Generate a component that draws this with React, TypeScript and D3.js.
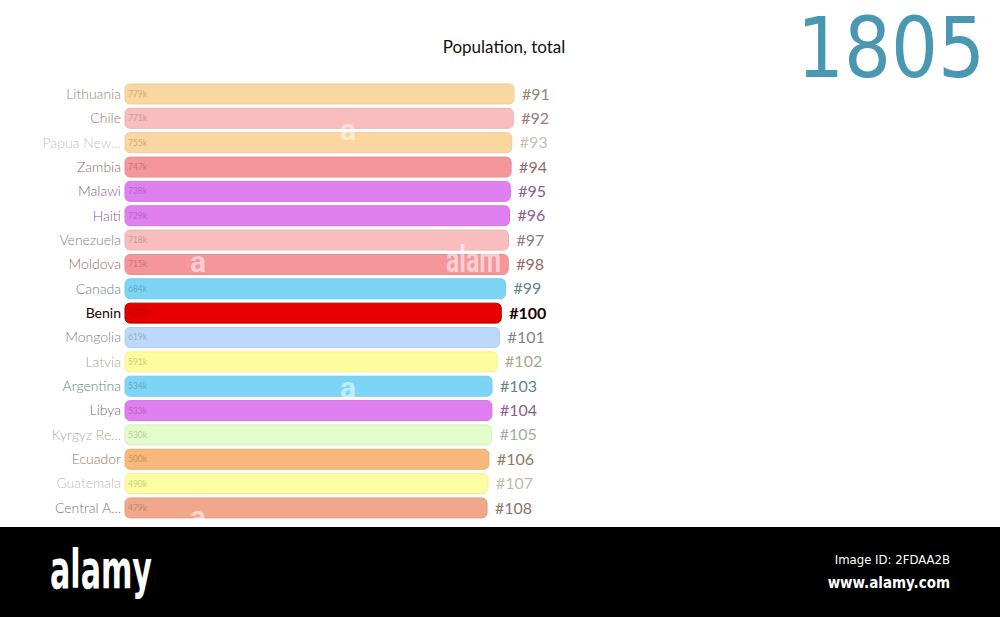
import React, { useEffect, useRef } from 'react';
import * as d3 from 'd3';

// current frame of the race
const year = '1805';
const title = 'Population, total';

const countries = [
  'Lithuania', 'Chile', 'Papua New...', 'Zambia', 'Malawi', 'Haiti',
  'Venezuela', 'Moldova', 'Canada', 'Benin', 'Mongolia', 'Latvia',
  'Argentina', 'Libya', 'Kyrgyz Re...', 'Ecuador', 'Guatemala', 'Central A...',
];
// population in thousands
const values = [779, 771, 755, 747, 738, 729, 718, 715, 684, 637, 619, 591, 534, 533, 530, 500, 490, 479];
const ranks = [91, 92, 93, 94, 95, 96, 97, 98, 99, 100, 101, 102, 103, 104, 105, 106, 107, 108];
const barColors = [
  '#fbd7a0', '#f9bdbd', '#fbd7a0', '#f5959c', '#e07ff0', '#e07ff0',
  '#f9bdbd', '#f5959c', '#7dd5f5', '#e60000', '#bcd9f9', '#fdfd9f',
  '#7dd5f5', '#e07ff0', '#e2fdc9', '#f8b77b', '#fdfda1', '#f1a78a',
];
// label opacity (rows entering / leaving fade out)
const fades = [1, 1, 0.55, 1, 1, 1, 1, 1, 1, 1, 1, 0.85, 1, 1, 0.8, 1, 0.65, 1];
const highlight = 'Benin';

const W = 1000;
const H = 617;

const App = () => {
  const svgRef = useRef<SVGSVGElement>(null);

  useEffect(() => {
    const svg = d3.select(svgRef.current);
    svg.selectAll('*').remove();

    const font = 'Lato, "Open Sans", sans-serif';
    const left = 125;
    const step = 24.35;
    const pad = 0.18;

    // the race keeps a floating baseline, so the scale does not start at 0
    const x = d3.scaleLinear().domain([-3550, 779]).range([left, 514]);
    const y = d3.scaleBand<number>()
      .domain(d3.range(countries.length))
      .range([84, 84 + step * (countries.length - pad)])
      .paddingInner(pad)
      .paddingOuter(0);

    svg.append('rect').attr('width', W).attr('height', H).attr('fill', '#fff');

    svg.append('text')
      .attr('x', 504).attr('y', 53)
      .attr('text-anchor', 'middle')
      .style('font-family', font)
      .style('font-size', '17px')
      .attr('fill', '#111')
      .text(title);

    svg.append('text')
      .attr('x', 797).attr('y', 77)
      .attr('textLength', 188)
      .attr('lengthAdjust', 'spacingAndGlyphs')
      .style('font-family', '"DejaVu Sans Condensed", "DejaVu Sans", sans-serif')
      .style('font-size', '84px')
      .attr('fill', '#4a97b1')
      .text(year);

    const rows = svg.append('g')
      .selectAll('g')
      .data(countries.map((c, i) => ({ c, i })))
      .enter()
      .append('g');

    const labelColor = (i: number) =>
      countries[i] === highlight ? '#1a0000' : d3.interpolateRgb(barColors[i], '#4a4a4a')(0.58);

    rows.append('rect')
      .attr('x', left)
      .attr('y', d => y(d.i)!)
      .attr('width', d => x(values[d.i]) - left)
      .attr('height', y.bandwidth())
      .attr('rx', 5)
      .attr('fill', d => barColors[d.i])
      .attr('stroke', d => d3.color(barColors[d.i])!.darker(countries[d.i] === highlight ? 1 : 0.15).formatHex())
      .attr('stroke-width', 1);

    rows.append('text')
      .attr('x', left + 3)
      .attr('y', d => y(d.i)! + y.bandwidth() / 2)
      .attr('dy', '0.35em')
      .style('font-family', font)
      .style('font-size', '8.5px')
      .attr('fill', d => d3.color(barColors[d.i])!.darker(0.6).formatHex())
      .text(d => `${values[d.i]}k`);

    rows.append('text')
      .attr('x', 121)
      .attr('y', d => y(d.i)! + y.bandwidth() / 2)
      .attr('dy', '0.35em')
      .attr('text-anchor', 'end')
      .style('font-family', font)
      .style('font-size', '14px')
      .style('font-weight', d => (countries[d.i] === highlight ? 400 : 300))
      .attr('fill', d => labelColor(d.i))
      .attr('fill-opacity', d => fades[d.i])
      .text(d => d.c);

    rows.append('text')
      .attr('x', d => x(values[d.i]) + 8)
      .attr('y', d => y(d.i)! + y.bandwidth() / 2)
      .attr('dy', '0.35em')
      .style('font-family', font)
      .style('font-size', '16px')
      .style('font-weight', d => (countries[d.i] === highlight ? 700 : 400))
      .attr('fill', d => labelColor(d.i))
      .attr('fill-opacity', d => fades[d.i])
      .text(d => `#${ranks[d.i]}`);

    // stock photo watermark
    const wm = svg.append('g')
      .attr('fill', '#fff')
      .attr('fill-opacity', 0.55)
      .style('font-family', 'Roboto, sans-serif')
      .style('font-weight', 700);
    [[348, 140], [198, 272], [348, 398], [198, 527]].forEach(([px, py]) => {
      wm.append('text').attr('x', px).attr('y', py).attr('text-anchor', 'middle')
        .style('font-size', '30px').text('a');
    });
    wm.append('text')
      .attr('transform', 'translate(446,272) scale(1,1.45)')
      .style('font-size', '25px').text('alam');

    // bottom banner
    svg.append('rect').attr('x', 0).attr('y', 527).attr('width', W).attr('height', H - 527).attr('fill', '#000');
    svg.append('text')
      .attr('x', 50).attr('y', 588)
      .attr('textLength', 102)
      .attr('lengthAdjust', 'spacingAndGlyphs')
      .style('font-family', '"Liberation Sans Narrow", "DejaVu Sans Condensed", sans-serif')
      .style('font-size', '54px')
      .style('font-weight', 700)
      .attr('fill', '#fff')
      .text('alamy');
    svg.append('text')
      .attr('x', 950).attr('y', 564)
      .attr('text-anchor', 'end')
      .style('font-family', '"DejaVu Sans Condensed", sans-serif')
      .style('font-size', '13px')
      .attr('fill', '#fff')
      .text('Image ID: 2FDAA2B');
    svg.append('text')
      .attr('x', 950).attr('y', 588)
      .attr('text-anchor', 'end')
      .style('font-family', '"DejaVu Sans Condensed", sans-serif')
      .style('font-size', '15px')
      .style('font-weight', 700)
      .attr('fill', '#fff')
      .text('www.alamy.com');
  }, []);

  return (
    <svg
      ref={svgRef}
      width={W}
      height={H}
      viewBox={`0 0 ${W} ${H}`}
      style={{ position: 'absolute', left: 0, top: 0, display: 'block' }}
    />
  );
};

export default App;
